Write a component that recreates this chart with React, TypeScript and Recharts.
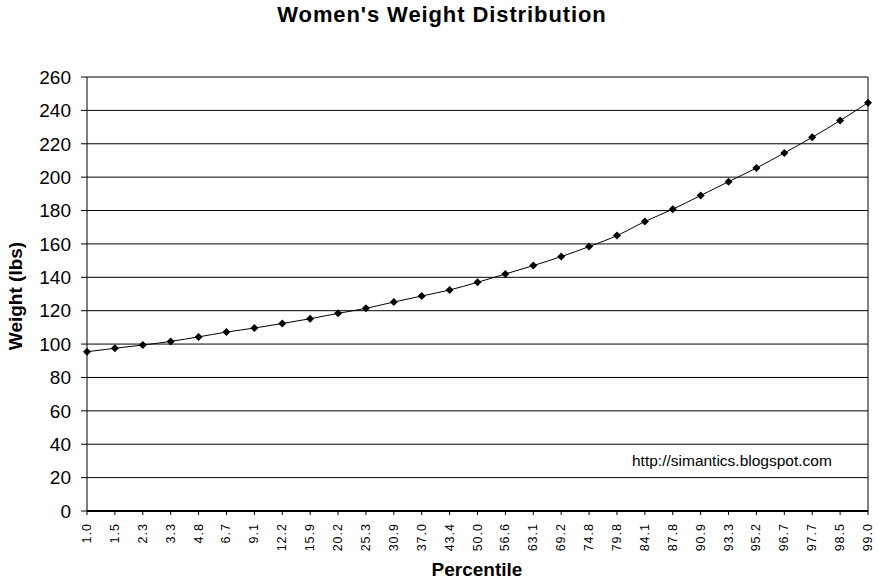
import { LineChart, Line, XAxis, YAxis, CartesianGrid, ReferenceLine } from 'recharts';

const percentiles = [
  '1.0', '1.5', '2.3', '3.3', '4.8', '6.7', '9.1', '12.2', '15.9', '20.2',
  '25.3', '30.9', '37.0', '43.4', '50.0', '56.6', '63.1', '69.2', '74.8', '79.8',
  '84.1', '87.8', '90.9', '93.3', '95.2', '96.7', '97.7', '98.5', '99.0',
];

const weights = [
  95.4, 97.5, 99.4, 101.6, 104.3, 107.2, 109.6, 112.3, 115.2, 118.4,
  121.4, 125.2, 128.8, 132.4, 137.0, 142.0, 147.0, 152.4, 158.4, 165.0,
  173.4, 180.8, 189.0, 197.3, 205.5, 214.5, 223.9, 233.9, 244.6,
];

const yTicks = [0, 20, 40, 60, 80, 100, 120, 140, 160, 180, 200, 220, 240, 260];

const data = percentiles.map((p, i) => ({ percentile: p, weight: weights[i] }));

const font = 'Arial, "Liberation Sans", sans-serif';

const Diamond = (props: any) => {
  const { cx, cy } = props;
  if (cx == null || cy == null) return null;
  const s = 4;
  return (
    <polygon
      points={`${cx},${cy - s} ${cx + s},${cy} ${cx},${cy + s} ${cx - s},${cy}`}
      fill="#000"
    />
  );
};

const PercentTick = (props: any) => {
  const { x, y, payload } = props;
  return (
    <text
      x={x + 4}
      y={y}
      transform={`rotate(-90, ${x + 4}, ${y})`}
      textAnchor="end"
      fontSize={12.5}
      letterSpacing={1}
      fontFamily={font}
      fill="#000"
    >
      {payload.value}
    </text>
  );
};

export default function App() {
  return (
    <div style={{ position: 'absolute', left: 0, top: 0, width: 879, height: 585, background: '#fff' }}>
      <LineChart
        width={879}
        height={585}
        data={data}
        margin={{ top: 77, right: 11, bottom: 0, left: 0 }}
      >
        <CartesianGrid vertical={false} stroke="#000" strokeWidth={1} />
        <XAxis
          dataKey="percentile"
          height={74}
          interval={0}
          axisLine={{ stroke: '#000', strokeWidth: 2 }}
          tickLine={{ stroke: '#000' }}
          tickSize={4}
          tickMargin={8}
          tick={<PercentTick />}
        />
        <YAxis
          width={87}
          domain={[0, 260]}
          ticks={yTicks}
          interval={0}
          axisLine={{ stroke: '#000' }}
          tickLine={{ stroke: '#000' }}
          tickSize={6}
          tickMargin={10}
          tick={{ fill: '#000', fontSize: 19, fontFamily: font }}
        />
        <ReferenceLine x="99.0" stroke="#000" strokeWidth={1} />
        <Line
          type="monotone"
          dataKey="weight"
          stroke="#000"
          strokeWidth={1}
          dot={<Diamond />}
          activeDot={false}
          isAnimationActive={false}
        />
      </LineChart>
      <svg
        width={879}
        height={585}
        style={{ position: 'absolute', left: 0, top: 0, pointerEvents: 'none' }}
      >
        <text
          x={442}
          y={22}
          textAnchor="middle"
          fontSize={22}
          letterSpacing={0.9}
          fontWeight="bold"
          fontFamily={font}
          fill="#000"
        >
          Women's Weight Distribution
        </text>
        <text
          x={22}
          y={296}
          transform="rotate(-90, 22, 296)"
          textAnchor="middle"
          fontSize={19}
          fontWeight="bold"
          fontFamily={font}
          fill="#000"
        >
          Weight (lbs)
        </text>
        <text x={477} y={576} textAnchor="middle" fontSize={19} fontWeight="bold" fontFamily={font} fill="#000">
          Percentile
        </text>
        <text x={632} y={466} fontSize={15.5} fontFamily={font} fill="#000">
          http://simantics.blogspot.com
        </text>
      </svg>
    </div>
  );
}
